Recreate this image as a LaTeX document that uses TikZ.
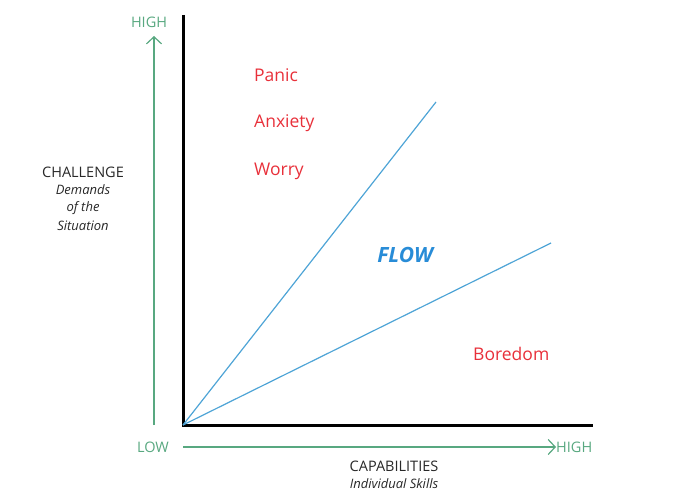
\documentclass[tikz,border=0pt]{standalone}
\usepackage{fontspec}
\setmainfont{Open Sans}
\usetikzlibrary{arrows.meta}
\definecolor{axgreen}{RGB}{88,168,128}
\definecolor{lblred}{RGB}{232,48,58}
\definecolor{lineblue}{RGB}{78,164,214}
\definecolor{flowblue}{RGB}{40,140,215}
\definecolor{txtgray}{RGB}{40,40,40}
\begin{document}
\begin{tikzpicture}[x=1pt,y=-1pt,
  zone/.style={text=lblred,font=\fontsize{17.5}{20}\selectfont,anchor=west,inner sep=0pt},
  axlbl/.style={text=axgreen,font=\fontsize{14.5}{17}\selectfont,inner sep=0pt},
  ttl/.style={text=txtgray,font=\fontsize{14.5}{17}\selectfont,inner sep=0pt,align=center},
  sub/.style={text=txtgray,font=\fontsize{13}{15}\selectfont\itshape,inner sep=0pt,align=center},
  blackax/.style={line width=3pt,black},
  greenarr/.style={axgreen,line width=1.2pt,-{Straight Barb[length=7pt,width=15pt,line width=1.2pt]}},
  blueline/.style={lineblue,line width=1.2pt}]
\useasboundingbox (0,0) rectangle (687,492);
% axes
\coordinate (O) at (183,425);
\coordinate (ytop) at (183,15);
\coordinate (xend) at (593,425);
\draw[blackax] (ytop) -- (O.center) -- (xend);
% blue lines
\coordinate (u) at (436,102);
\coordinate (l) at (551,243);
\draw[blueline] (O) -- (u);
\draw[blueline] (O) -- (l);
% green arrows
\coordinate (gy0) at (154,425);
\coordinate (gy1) at (154,36);
\draw[greenarr] (gy0) -- (gy1);
\node[axlbl] (hy) at (149,22) {HIGH};
\node[axlbl] (low) at (153,447) {LOW};
\node[axlbl,anchor=west] (hx) at (556,447) {HIGH};
\coordinate (gx0) at (183,447);
\draw[greenarr] (gx0) -- (hx.west);
% titles
\node[ttl] (chal) at (83,172) {CHALLENGE};
\node[sub] (dem) at (83,190) {Demands};
\node[sub] (oft) at (83,208) {of the};
\node[sub] (sit) at (83,226) {Situation};
\node[ttl] (cap) at (394,466) {CAPABILITIES};
\node[sub] (ind) at (394,484) {Individual Skills};
% zones
\node[zone] (panic) at (254,75) {Panic};
\node[zone] (anx) at (254,123) {Anxiety};
\node[zone] (wor) at (254,171) {Worry};
\node[zone] (bor) at (473,354) {Boredom};
\node[text=flowblue,font=\fontsize{21}{25}\selectfont\bfseries\itshape,inner sep=0pt] (flow) at (405,255) {FLOW};
\end{tikzpicture}
\end{document}
